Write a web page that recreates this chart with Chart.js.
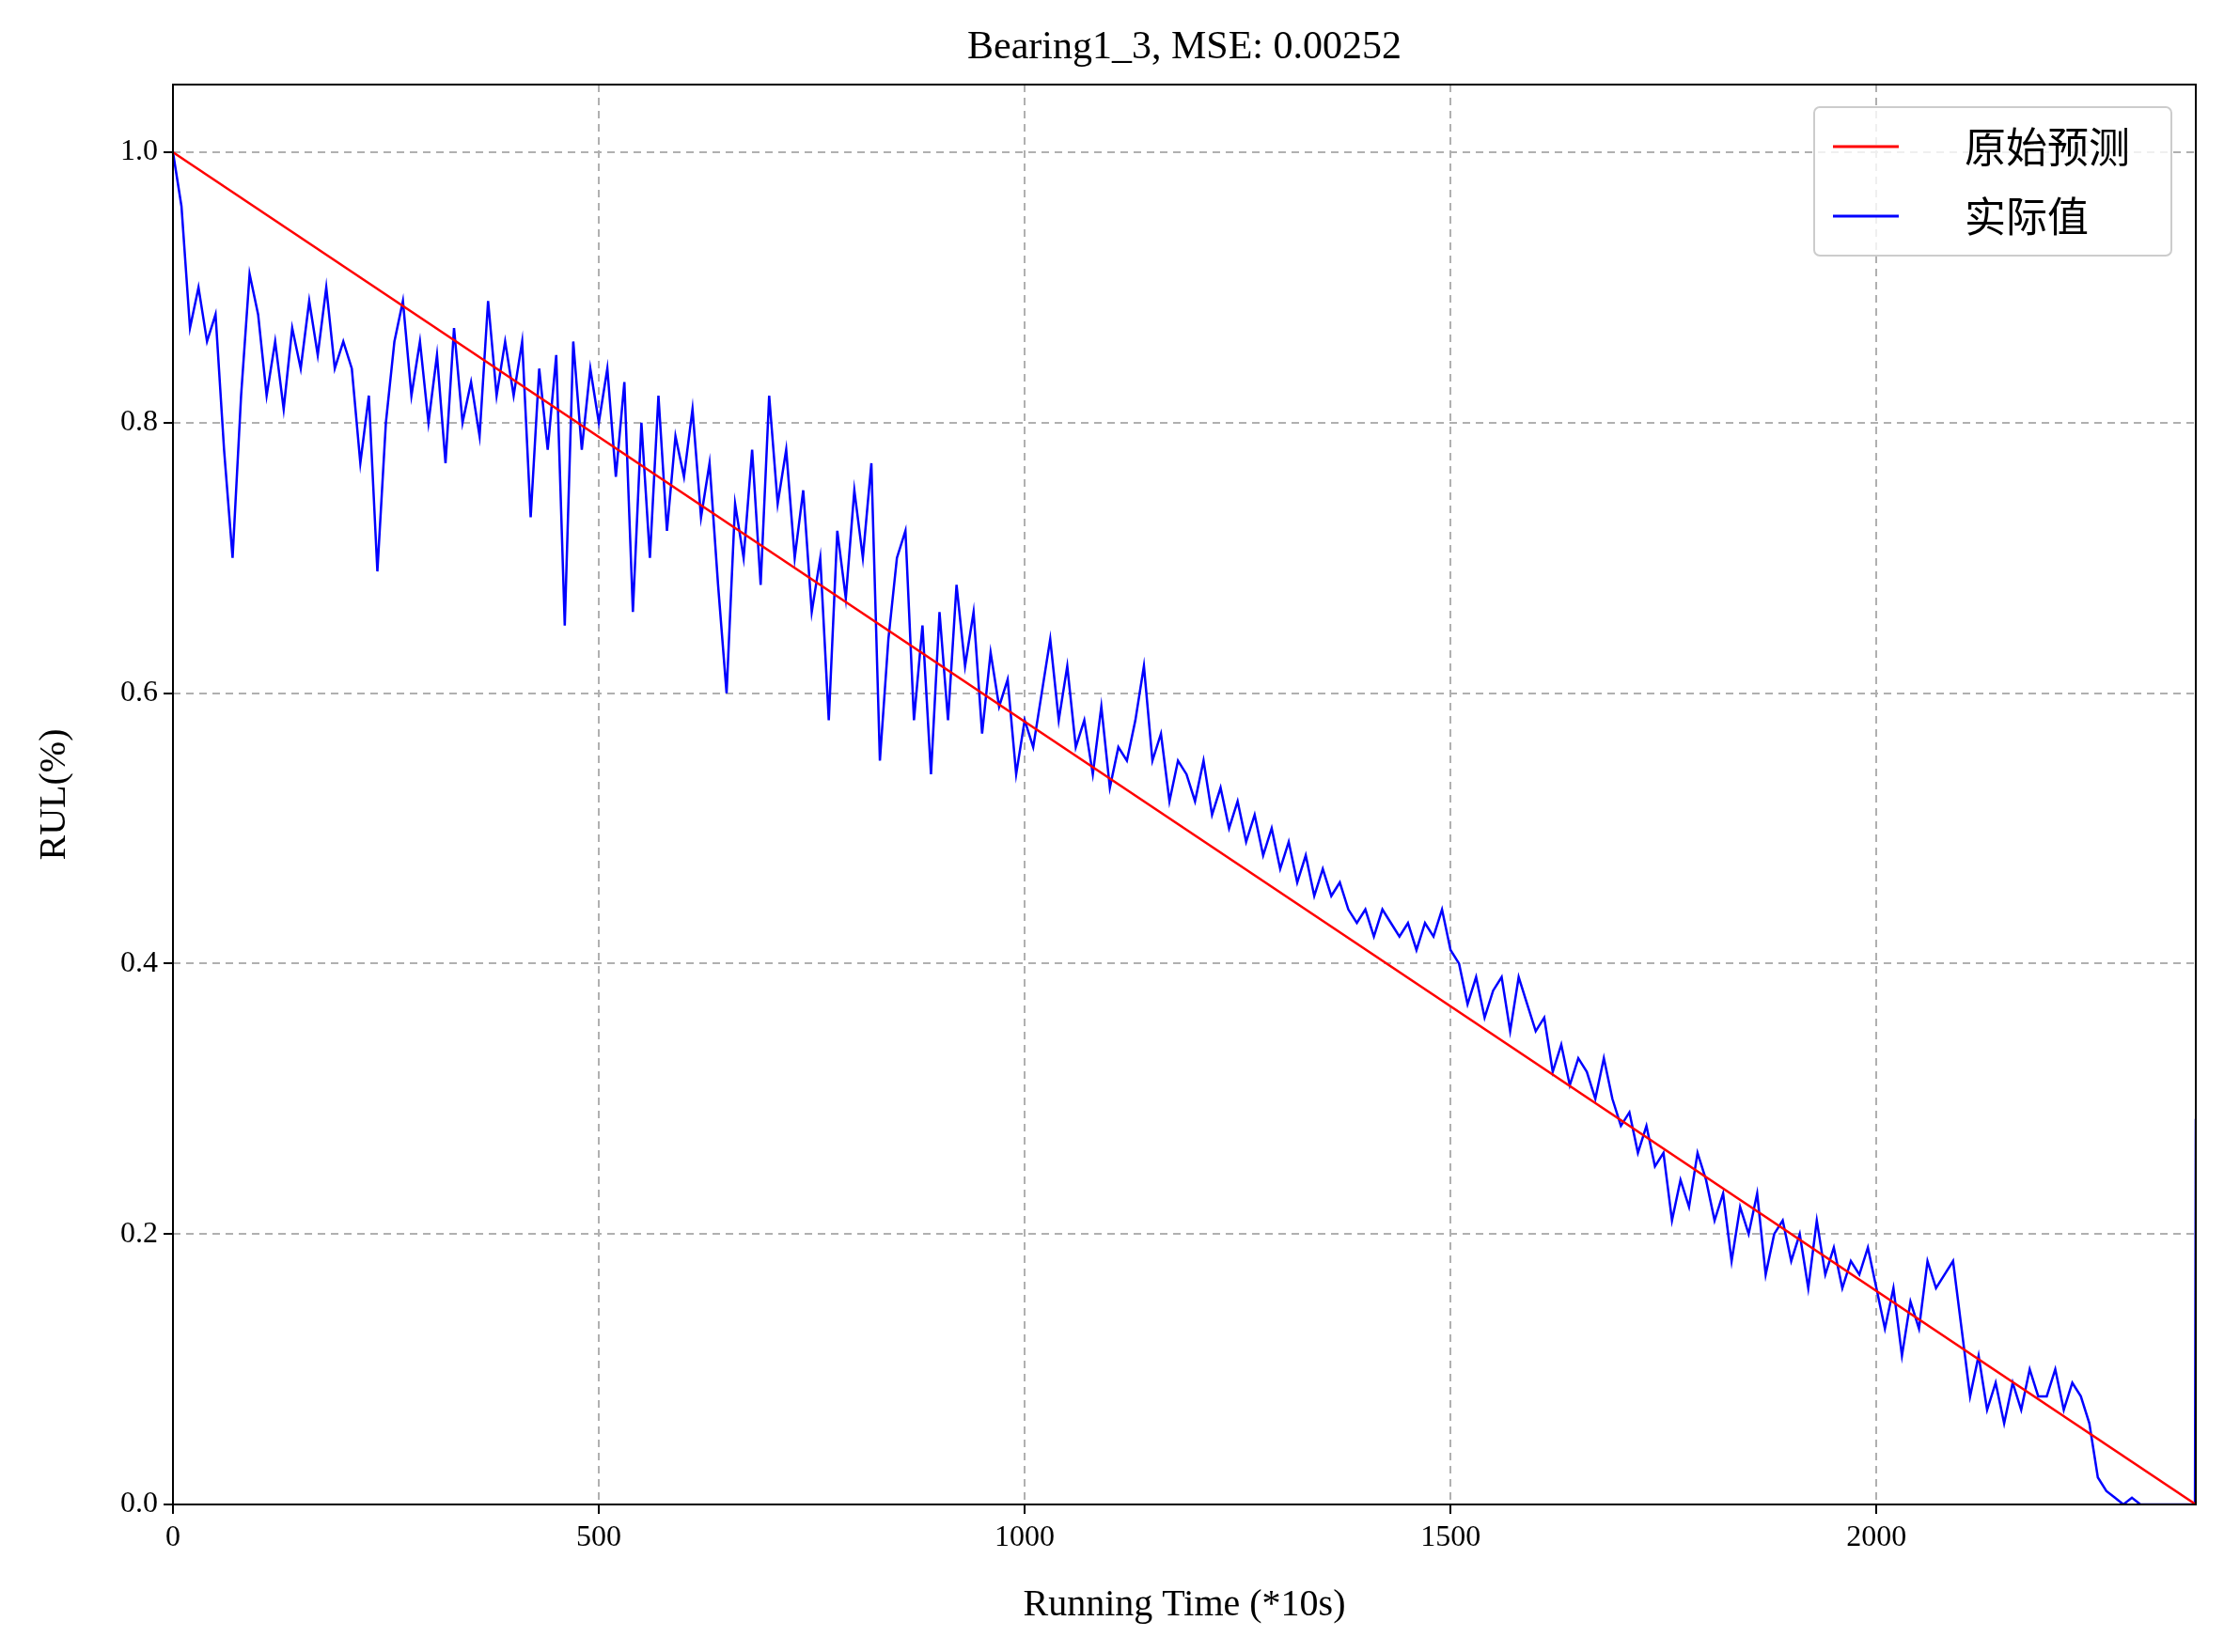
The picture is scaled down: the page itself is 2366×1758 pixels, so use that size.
<!DOCTYPE html>
<html><head><meta charset="utf-8">
<script src="https://cdn.jsdelivr.net/npm/chart.js@4"></script>
<style>html,body{margin:0;padding:0;background:#fff}#w{width:2366px;height:1758px}</style>
</head><body><div id="w"><canvas id="c"></canvas></div>
<script>
const titleText = "Bearing1_3, MSE: 0.00252";
const xLabel = "Running Time (*10s)";
const yLabel = "RUL(%)";
const seriesNames = ["原始预测", "实际值"];
const predX = [0, 2375];
const predY = [1.0, 0.0];
const actualStep = 10;
const actualY = [
1.0,0.96,0.87,0.90,0.86,0.88,0.78,0.70,0.82,0.91,
0.88,0.82,0.86,0.81,0.87,0.84,0.89,0.85,0.90,0.84,
0.86,0.84,0.77,0.82,0.69,0.80,0.86,0.89,0.82,0.86,
0.80,0.85,0.77,0.87,0.80,0.83,0.79,0.89,0.82,0.86,
0.82,0.86,0.73,0.84,0.78,0.85,0.65,0.86,0.78,0.84,
0.80,0.84,0.76,0.83,0.66,0.80,0.70,0.82,0.72,0.79,
0.76,0.81,0.73,0.77,0.68,0.60,0.74,0.70,0.78,0.68,
0.82,0.74,0.78,0.70,0.75,0.66,0.70,0.58,0.72,0.67,
0.75,0.70,0.77,0.55,0.64,0.70,0.72,0.58,0.65,0.54,
0.66,0.58,0.68,0.62,0.66,0.57,0.63,0.59,0.61,0.54,
0.58,0.56,0.60,0.64,0.58,0.62,0.56,0.58,0.54,0.59,
0.53,0.56,0.55,0.58,0.62,0.55,0.57,0.52,0.55,0.54,
0.52,0.55,0.51,0.53,0.50,0.52,0.49,0.51,0.48,0.50,
0.47,0.49,0.46,0.48,0.45,0.47,0.45,0.46,0.44,0.43,
0.44,0.42,0.44,0.43,0.42,0.43,0.41,0.43,0.42,0.44,
0.41,0.40,0.37,0.39,0.36,0.38,0.39,0.35,0.39,0.37,
0.35,0.36,0.32,0.34,0.31,0.33,0.32,0.30,0.33,0.30,
0.28,0.29,0.26,0.28,0.25,0.26,0.21,0.24,0.22,0.26,
0.24,0.21,0.23,0.18,0.22,0.20,0.23,0.17,0.20,0.21,
0.18,0.20,0.16,0.21,0.17,0.19,0.16,0.18,0.17,0.19,
0.16,0.13,0.16,0.11,0.15,0.13,0.18,0.16,0.17,0.18,
0.13,0.08,0.11,0.07,0.09,0.06,0.09,0.07,0.10,0.08,
0.08,0.10,0.07,0.09,0.08,0.06,0.02,0.01,0.005,0.0,
0.005,0.0,0.0,0.0,0.0,0.0,0.0,0.0];
const tailX = [2374, 2375];
const tailY = [0.0, 0.285];

const actualData = actualY.map((v,i)=>({x:i*actualStep,y:v}));
tailX.forEach((x,i)=>actualData.push({x:x,y:tailY[i]}));
const predData = predX.map((x,i)=>({x:x,y:predY[i]}));

const serif = "'Liberation Serif', 'DejaVu Serif', serif";
const frame = {id:'frame', afterDraw(ch){
  const a=ch.chartArea, c=ch.ctx;
  c.save(); c.strokeStyle='#000'; c.lineWidth=2; c.strokeRect(a.left,a.top,a.right-a.left,a.bottom-a.top);
  c.fillStyle='#000'; c.font="42px "+serif; c.textAlign='center'; c.textBaseline='bottom';
  c.fillText(titleText,(a.left+a.right)/2,a.top-18);
  const bw=380,bh=158,bx=a.right-bw-26,by=a.top+24;
  c.fillStyle='rgba(255,255,255,0.8)'; c.strokeStyle='#ccc'; c.lineWidth=2;
  c.beginPath(); c.roundRect(bx,by,bw,bh,6); c.fill(); c.stroke();
  c.font="44px 'Noto Sans CJK SC', sans-serif"; c.textAlign='left'; c.textBaseline='middle';
  ch.data.datasets.forEach((d,i)=>{
    const y=by+42+i*74;
    c.strokeStyle=d.borderColor; c.lineWidth=3;
    c.beginPath(); c.moveTo(bx+20,y); c.lineTo(bx+90,y); c.stroke();
    c.fillStyle='#000'; c.fillText(d.label,bx+160,y);
  });
  c.restore();
}};
new Chart(document.getElementById('c'),{
  type:'line',
  data:{datasets:[
    {label:seriesNames[0],data:predData,borderColor:'#ff0000',borderWidth:2.5,pointRadius:0,tension:0},
    {label:seriesNames[1],data:actualData,borderColor:'#0000ff',borderWidth:2.5,pointRadius:0,tension:0}
  ]},
  options:{responsive:true,maintainAspectRatio:false,animation:false,
    layout:{padding:{top:90,right:30,left:30,bottom:22}},
    plugins:{legend:{display:false},title:{display:false},tooltip:{enabled:false}},
    scales:{
      x:{type:'linear',min:0,max:2375,
        afterBuildTicks(s){s.ticks=[0,500,1000,1500,2000].map(v=>({value:v}));},
        afterFit(s){s.height=135;},
        grid:{color:'#b0b0b0',lineWidth:2,tickLength:10,tickColor:'#000',drawTicks:true},
        border:{display:false,dash:[8,6]},
        ticks:{color:'#000',font:{family:serif,size:32},maxRotation:0,padding:6,callback:v=>String(v)},
        title:{display:true,text:xLabel,color:'#000',font:{family:serif,size:40},padding:{top:0}}},
      y:{min:0,max:1.05,
        afterBuildTicks(s){s.ticks=[0,0.2,0.4,0.6,0.8,1.0].map(v=>({value:v}));},
        afterFit(s){s.width=154;},
        grid:{color:'#b0b0b0',lineWidth:2,tickLength:10,tickColor:'#000'},
        border:{display:false,dash:[8,6]},
        ticks:{color:'#000',font:{family:serif,size:32},padding:6,callback:v=>v.toFixed(1)},
        title:{display:true,text:yLabel,color:'#000',font:{family:serif,size:40},padding:{bottom:4}}}
    }},
  plugins:[frame]
});
</script></body></html>
